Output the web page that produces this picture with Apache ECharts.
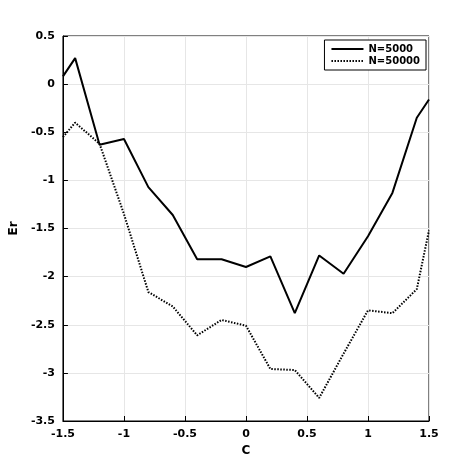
<!DOCTYPE html>
<html><head><meta charset="utf-8">
<script src="https://cdn.jsdelivr.net/npm/echarts@6/dist/echarts.min.js"></script>
<style>html,body{margin:0;background:#fff}#c{width:474px;height:474px}</style>
</head><body><div id="c"></div>
<script>
const xs = [-1.5, -1.4, -1.2, -1.0, -0.8, -0.6, -0.4, -0.2, 0, 0.2, 0.4, 0.6, 0.8, 1.0, 1.2, 1.4, 1.5];
const n5000 = [0.08, 0.27, -0.63, -0.57, -1.07, -1.36, -1.82, -1.82, -1.9, -1.79, -2.38, -1.78, -1.97, -1.58, -1.13, -0.35, -0.16];
const n50000 = [-0.55, -0.40, -0.62, -1.35, -2.16, -2.31, -2.61, -2.45, -2.51, -2.96, -2.97, -3.26, -2.8, -2.35, -2.38, -2.13, -1.52];
const pair = ys => xs.map((x, i) => [x, ys[i]]);
const font = 'DejaVu Sans';
const axisCommon = {
  axisLine: { onZero: false, lineStyle: { color: '#000', width: 1 } },
  axisTick: { inside: true, length: 5, lineStyle: { color: '#000' } },
  axisLabel: { color: '#000', fontSize: 11, fontFamily: font, fontWeight: 'bold' },
  splitLine: { show: true, lineStyle: { color: '#e6e6e6' } },
  nameTextStyle: { color: '#000', fontSize: 12, fontFamily: font, fontWeight: 'bold' }
};
const chart = echarts.init(document.getElementById('c'));
chart.setOption({
  animation: false,
  grid: { left: 61, right: 45, top: 36, bottom: 53, show: true, borderColor: '#000', borderWidth: 1 },
  legend: {
    right: 48, top: 40, orient: 'vertical', itemGap: 2, itemWidth: 32, itemHeight: 10,
    backgroundColor: '#fff', borderColor: '#000', borderWidth: 1, padding: [4, 6],
    itemStyle: { opacity: 0 },
    textStyle: { color: '#000', fontSize: 10, fontFamily: font, fontWeight: 'bold' },
    data: ['N=5000', 'N=50000']
  },
  xAxis: Object.assign({ type: 'value', min: -1.5, max: 1.5, interval: 0.5, name: 'C', nameLocation: 'middle', nameGap: 22 }, axisCommon),
  yAxis: Object.assign({ type: 'value', min: -3.5, max: 0.5, interval: 0.5, name: 'Er', nameLocation: 'middle', nameGap: 36 }, axisCommon),
  series: [
    { name: 'N=5000', type: 'line', data: pair(n5000), symbol: 'none', lineStyle: { color: '#000', width: 2 }, itemStyle: { color: '#000' } },
    { name: 'N=50000', type: 'line', data: pair(n50000), symbol: 'none', lineStyle: { color: '#000', width: 2, type: [1.5, 1.5] }, itemStyle: { color: '#000' } }
  ]
});
</script></body></html>
